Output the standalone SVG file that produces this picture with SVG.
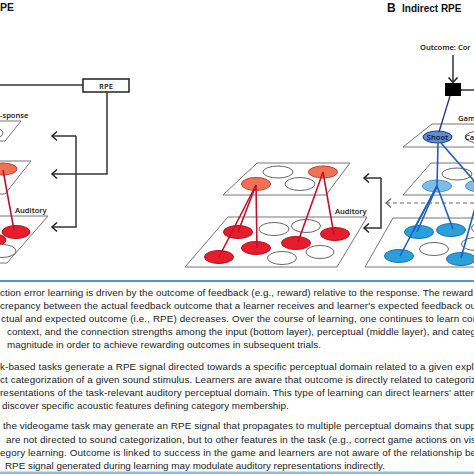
<svg xmlns="http://www.w3.org/2000/svg" width="474" height="474" viewBox="0 0 474 474">
<defs>
<marker id="chev" viewBox="-8 -6 10 12" markerWidth="10" markerHeight="12" refX="0" refY="0" orient="auto" markerUnits="userSpaceOnUse">
<path d="M-5,-4.5 L0,0 L-5,4.5" fill="none" stroke="#222" stroke-width="1.5"/>
</marker>
<marker id="chevg" viewBox="-8 -6 10 12" markerWidth="10" markerHeight="12" refX="0" refY="0" orient="auto" markerUnits="userSpaceOnUse">
<path d="M-5,-4.5 L0,0 L-5,4.5" fill="none" stroke="#666" stroke-width="1.3"/>
</marker>
</defs>
<style>
.plane{fill:#fff;stroke:#777;stroke-width:1}
.wh{fill:#fff;stroke:#666;stroke-width:1}
.or{fill:#F07256;stroke:#C43C2C;stroke-width:1}
.rd{fill:#E71D2B;stroke:#B0101E;stroke-width:1}
.lb{fill:#7FBDE9;stroke:#4C8FCB;stroke-width:1}
.bl{fill:#2AA0DA;stroke:#1A70AA;stroke-width:1}
.rl{stroke:#C3112B;stroke-width:1.6;fill:none}
.bll{stroke:#1E5FC0;stroke-width:1.6;fill:none}
.blk{stroke:#333;stroke-width:1.5;fill:none}
.lab{font-family:"Open Sans","Liberation Sans",sans-serif;font-size:7.6px;fill:#111;font-weight:600}
.body{font-family:"Liberation Sans",Arial,sans-serif;font-size:9.85px;fill:#1c1c1c}
.ttl{font-family:"Liberation Sans",Arial,sans-serif;font-weight:bold;fill:#111}
</style>
<rect width="474" height="474" fill="#fff"/>

<!-- titles -->
<text class="ttl" x="0" y="11" font-size="10.5">PE</text>
<text class="ttl" x="387" y="11.5" font-size="12">B</text>
<text class="ttl" x="402" y="11.5" font-size="10">Indirect RPE</text>

<!-- Left panel planes -->
<g id="left-response">
<path class="plane" d="M-10,121 L21,121 L5,141 L-10,141 Z"/>
<ellipse class="wh" cx="-10" cy="133" rx="13" ry="6"/>
<text class="lab" x="0" y="118" font-weight="normal">-sponse</text>
</g>
<g id="left-perceptual">
<path class="plane" d="M-10,161 L31,161 L5,194 L-10,194 Z"/>
<ellipse class="or" cx="3" cy="169" rx="14" ry="6"/>
</g>
<g id="left-auditory">
<path class="plane" d="M-10,216 L48,216 L7,263 L-10,263 Z"/>
<ellipse class="rd" cx="-6" cy="240" rx="12" ry="6"/>
<ellipse class="rd" cx="16" cy="232" rx="14" ry="6.5"/>
<ellipse class="wh" cx="2" cy="251" rx="14" ry="6.5"/>
<text class="lab" x="15" y="213">Auditory</text>
</g>
<g id="rpe-box">
<rect x="83" y="79" width="46" height="13" fill="#fff" stroke="#222" stroke-width="1.5"/>
<text class="lab" x="106" y="88.5" text-anchor="middle" font-weight="bold" font-size="7.5">RPE</text>
</g>

<!-- Middle (auditory) diagram of panel B -->
<g id="b-auditory-perceptual">
<path class="plane" d="M257,163 L350,163 L326,195 L223,195 Z"/>
<ellipse class="wh" cx="278" cy="172" rx="15" ry="6"/>
<ellipse class="or" cx="323" cy="172" rx="14.5" ry="6"/>
<ellipse class="or" cx="256" cy="184" rx="14.5" ry="6.5"/>
<ellipse class="wh" cx="300" cy="184" rx="15" ry="6.5"/>
</g>
<g id="b-auditory-input">
<path class="plane" d="M228,217 L367,217 L337,267 L185,267 Z"/>
<ellipse class="rd" cx="238" cy="232" rx="14.5" ry="6.5"/>
<ellipse class="wh" cx="274" cy="229" rx="15" ry="6.5"/>
<ellipse class="wh" cx="306" cy="226" rx="14.5" ry="6.5"/>
<ellipse class="rd" cx="335" cy="234" rx="14.5" ry="6.5"/>
<ellipse class="rd" cx="219" cy="257" rx="14.5" ry="6.5"/>
<ellipse class="rd" cx="256" cy="248" rx="14.5" ry="6.5"/>
<ellipse class="rd" cx="296" cy="243" rx="14.5" ry="6.5"/>
<ellipse class="wh" cx="320" cy="252" rx="14" ry="6.5"/>
<ellipse class="wh" cx="282" cy="258" rx="14.5" ry="6.5"/>
<text class="lab" x="335" y="214">Auditory</text>
</g>

<!-- Right (game / visual) diagram -->
<g id="outcome">
<text class="lab" x="420" y="50" font-weight="normal" font-size="7.9">Outcome: Cor</text>
</g>
<g id="rpe-node">
<rect x="445" y="83" width="16" height="13" fill="#000"/>
</g>
<g id="game-plane">
<path class="plane" d="M432,124 L480,124 L480,147 L403,147 Z"/>
<text class="lab" x="458" y="121" font-weight="normal">Game</text>
<ellipse cx="437.5" cy="137" rx="14.5" ry="6" fill="#5A8ED6" stroke="#1E3A78" stroke-width="1"/>
<text class="lab" x="437.5" y="140" text-anchor="middle" font-weight="bold" font-size="8">Shoot</text>
<ellipse class="wh" cx="480" cy="137" rx="15" ry="6" stroke="#333"/>
<text class="lab" x="465" y="140" font-weight="bold" font-size="8">Ca</text>
</g>
<g id="visual-perceptual">
<path class="plane" d="M431,163 L480,163 L480,195 L403,195 Z"/>
<ellipse class="wh" cx="457" cy="174" rx="15" ry="6"/>
<ellipse class="lb" cx="437" cy="186" rx="14.5" ry="6"/>
<ellipse class="lb" cx="480" cy="186" rx="14.5" ry="6"/>
</g>
<g id="visual-input">
<path class="plane" d="M393,218 L480,218 L480,267 L365,267 Z"/>
<ellipse class="bl" cx="419" cy="232" rx="14.5" ry="6.5"/>
<ellipse class="bl" cx="451" cy="230" rx="14.5" ry="6.5"/>
<ellipse class="wh" cx="486" cy="228" rx="14.5" ry="6.5"/>
<ellipse class="wh" cx="434" cy="249" rx="14.5" ry="6.5"/>
<ellipse class="wh" cx="476" cy="244" rx="14.5" ry="6.5"/>
<ellipse class="bl" cx="399" cy="256" rx="14.5" ry="6.5"/>
<ellipse class="bl" cx="461" cy="259" rx="14.5" ry="6.5"/>
</g>

<!-- connectors -->
<g id="connectors">
<path class="rl" d="M3,170 L14,230"/>
<path class="rl" d="M256,185 L219,257"/>
<path class="rl" d="M256,185 L238,232"/>
<path class="rl" d="M256,185 L257,248"/>
<path class="rl" d="M323,172 L298,242"/>
<path class="rl" d="M323,172 L334,235"/>

<path d="M450,96 L439,132" stroke="#2A2A8C" stroke-width="1.3" fill="none"/>
<path class="bll" d="M438,143 L437,186"/>
<path class="bll" d="M441,143 L482,190"/>
<path class="bll" d="M437,186 L417,232"/>
<path class="bll" d="M437,186 L413,231"/>
<path class="bll" d="M437,186 L400,256"/>
<path class="bll" d="M437,186 L453,229"/>
<path class="bll" d="M480,190 L461,258"/>

<path class="blk" d="M0,85 L83,85"/>
<path class="blk" d="M107,92 L107,174 L52,174" marker-end="url(#chev)"/>
<path class="blk" d="M76,136 L52,136" marker-end="url(#chev)"/>
<path class="blk" d="M76,136 L76,227 L52,227" marker-end="url(#chev)"/>

<path class="blk" d="M453,55 L453,82.5" marker-end="url(#chev)"/>
<path class="blk" d="M461,90 L474,90"/>
<path class="blk" d="M381,178 L364,178" marker-end="url(#chev)"/>
<path class="blk" d="M381,178 L381,228 L364,228" marker-end="url(#chev)"/>
<path d="M474,203 L386,203" stroke="#666" stroke-width="1.2" stroke-dasharray="4,3" fill="none" marker-end="url(#chevg)"/>
</g>

<!-- divider -->
<line x1="0" y1="281" x2="474" y2="281" stroke="#4A98D8" stroke-width="2"/>

<!-- caption text -->
<g id="caption" class="body">
<text x="0" y="295.5" textLength="473" lengthAdjust="spacing">ction error learning is driven by the outcome of feedback (e.g., reward) relative to the response. The reward</text>
<text x="0" y="308.7" textLength="476" lengthAdjust="spacing">crepancy between the actual feedback outcome that a learner receives and learner's expected feedback ou</text>
<text x="1" y="321.9" textLength="475" lengthAdjust="spacing">ctual and expected outcome (i.e., RPE) decreases. Over the course of learning, one continues to learn cor</text>
<text x="7" y="335.1" textLength="469" lengthAdjust="spacing">context, and the connection strengths among the input (bottom layer), perceptual (middle layer), and categ</text>
<text x="7" y="348.3" textLength="314" lengthAdjust="spacing">magnitude in order to achieve rewarding outcomes in subsequent trials.</text>
<text x="0" y="369.6" textLength="476" lengthAdjust="spacing">k-based tasks generate a RPE signal directed towards a specific perceptual domain related to a given expli</text>
<text x="0" y="382.8" textLength="476" lengthAdjust="spacing">ct categorization of a given sound stimulus. Learners are aware that outcome is directly related to categoriz</text>
<text x="0" y="396" textLength="476" lengthAdjust="spacing">resentations of the task-relevant auditory perceptual domain. This type of learning can direct learners' atten</text>
<text x="2" y="409.2">discover specific acoustic features defining category membership.</text>
<text x="3" y="429.4" textLength="473" lengthAdjust="spacing">the videogame task may generate an RPE signal that propagates to multiple perceptual domains that supp</text>
<text x="6" y="442.6" textLength="470" lengthAdjust="spacing">are not directed to sound categorization, but to other features in the task (e.g., correct game actions on vis</text>
<text x="0" y="455.8" textLength="476" lengthAdjust="spacing">egory learning. Outcome is linked to success in the game and learners are not aware of the relationship be</text>
<text x="5" y="469" textLength="380" lengthAdjust="spacing">RPE signal generated during learning may modulate auditory representations indirectly.</text>
</g>
<rect x="0" y="471.5" width="474" height="2.5" fill="#86C0EA"/>
</svg>
